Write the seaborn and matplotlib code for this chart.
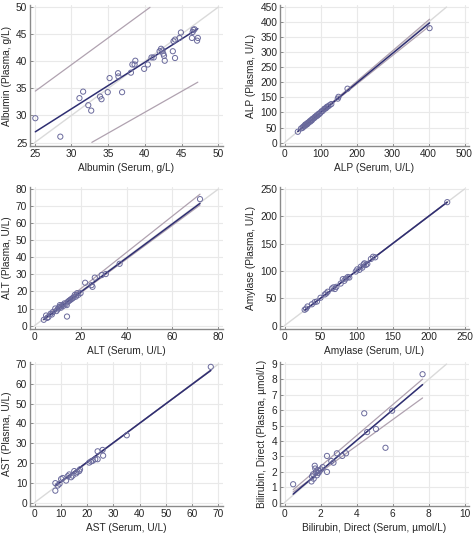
import numpy as np
import pandas as pd
import matplotlib
matplotlib.use("Agg")
import matplotlib.pyplot as plt
import seaborn as sns

# ---------------- data ----------------
alb_serum = [25.1, 28.5, 31.1, 31.6, 32.3, 32.7, 33.9, 34.1, 34.95, 35.2, 36.35, 36.4, 36.9,
             38.1, 38.3, 38.6, 38.7, 39.9, 40.4, 40.9, 41.2, 42.0, 42.2, 42.4, 42.5, 42.6, 42.7,
             43.8, 43.9, 44.1, 44.1, 44.7, 44.9, 46.4, 46.5, 46.6, 46.75, 47.1, 47.2]
alb_plasma = [29.5, 26.1, 33.2, 34.4, 31.9, 30.9, 33.5, 33.0, 34.3, 36.9, 37.8, 37.2, 34.3,
              37.9, 39.4, 39.4, 40.1, 38.6, 39.4, 40.7, 40.7, 41.85, 42.3, 42.0, 41.4, 41.0, 40.1,
              41.85, 43.7, 40.6, 44.0, 44.3, 45.3, 44.3, 45.4, 45.8, 45.9, 43.8, 44.3]

alp_serum = [37, 46, 50, 52, 55, 57, 58, 60, 62, 63, 65, 67, 70, 72, 74, 76, 78, 80, 83, 85,
             88, 90, 92, 95, 97, 100, 103, 106, 110, 112, 115, 118, 121, 125, 130, 148, 150, 175, 403]
alp_plasma = [36, 47, 49, 53, 54, 58, 60, 59, 63, 61, 66, 66, 71, 70, 75, 74, 79, 80, 82, 86,
              87, 91, 90, 96, 95, 99, 104, 105, 111, 113, 114, 119, 120, 124, 128, 146, 152, 179, 380]

alt_serum = [4.0, 5.0, 5.5, 6.0, 7.0, 7.5, 8.0, 9.0, 9.5, 10.0, 10.5, 11.0, 11.0, 11.5, 12.0,
             12.5, 13.0, 13.5, 14.0, 14.1, 14.5, 15.0, 15.5, 16.0, 16.5, 17.0, 17.5, 18.0, 18.5,
             19.0, 20.0, 22.0, 24.8, 25.2, 26.2, 29.2, 31.0, 37.0, 72.0]
alt_plasma = [3.4, 5.9, 4.5, 5.0, 7.0, 6.5, 8.0, 10.0, 8.5, 9.5, 10.5, 12.0, 11.0, 10.5, 12.0,
              11.5, 13.0, 12.5, 12.0, 5.3, 14.0, 14.5, 15.0, 15.5, 16.0, 16.5, 18.0, 17.0, 19.0,
              18.0, 19.0, 25.1, 23.7, 22.7, 28.1, 29.6, 30.2, 36.2, 74.1]

amy_serum = [28, 30, 32, 38, 42, 45, 50, 56, 58, 60, 66, 68, 70, 72, 78, 81, 83, 85, 88, 90,
             99, 101, 104, 106, 108, 110, 111, 113, 115, 120, 123, 126, 226]
amy_plasma = [29, 31, 35, 39, 43, 44, 51, 57, 59, 62, 68, 70, 67, 71, 77, 85, 82, 86, 89, 88,
              99, 103, 102, 108, 106, 112, 114, 111, 113, 122, 126, 125, 226]

ast_serum = [7.9, 7.9, 8.8, 9.5, 10.1, 10.7, 12.0, 12.6, 13.2, 13.9, 14.5, 15.1, 15.8, 16.3,
             17.0, 17.3, 20.8, 21.5, 22.1, 23.1, 24.0, 24.0, 25.9, 26.1, 35.1, 67.1]
ast_plasma = [9.8, 6.0, 8.6, 9.5, 11.9, 12.4, 11.1, 13.3, 14.2, 12.8, 13.6, 15.9, 14.7, 15.5,
              15.9, 16.8, 20.2, 20.8, 21.1, 21.9, 25.9, 21.9, 26.6, 23.7, 34.0, 68.6]

bil_serum = [0.48, 1.5, 1.53, 1.59, 1.62, 1.68, 1.71, 1.75, 1.8, 1.85, 1.89, 1.94, 2.03, 2.12,
             2.36, 2.36, 2.6, 2.72, 2.91, 3.21, 3.42, 4.43, 4.59, 5.08, 5.61, 5.98, 7.67]
bil_plasma = [1.19, 1.37, 1.7, 1.84, 1.55, 2.39, 2.21, 2.0, 1.77, 2.1, 1.92, 2.04, 2.15, 2.3,
              1.99, 3.03, 2.7, 2.59, 3.2, 3.03, 3.2, 5.8, 4.58, 4.78, 3.56, 5.97, 8.34]

# regression lines (intercept, slope): fit, upper, lower
lines = {
    "alb": [(5.41, 0.86), (9.65, 0.99), (-0.2, 0.77)],
    "alp": [(0.5, 0.985), (-1.5, 1.02), (2.5, 0.955)],
    "alt": [(-0.4, 1.0), (0.23, 1.066), (-0.66, 0.99)],
    "amy": [(0.0, 1.0), (-0.3, 1.003), (0.3, 0.997)],
    "ast": [(0.7, 0.985), (0.5, 0.99), (0.9, 0.98)],
    "bil": [(0.07, 0.99), (0.35, 1.0), (0.28, 0.85)],
}

panels = [
    ("alb", alb_serum, alb_plasma, "Albumin (Serum, g/L)", "Albumin (Plasma, g/L)",
     (25, 50, 5), (25, 50, 5)),
    ("alp", alp_serum, alp_plasma, "ALP (Serum, U/L)", "ALP (Plasma, U/L)",
     (0, 500, 100), (0, 450, 50)),
    ("alt", alt_serum, alt_plasma, "ALT (Serum, U/L)", "ALT (Plasma, U/L)",
     (0, 80, 20), (0, 80, 10)),
    ("amy", amy_serum, amy_plasma, "Amylase (Serum, U/L)", "Amylase (Plasma, U/L)",
     (0, 250, 50), (0, 250, 50)),
    ("ast", ast_serum, ast_plasma, "AST (Serum, U/L)", "AST (Plasma, U/L)",
     (0, 70, 10), (0, 70, 10)),
    ("bil", bil_serum, bil_plasma, "Bilirubin, Direct (Serum, \u00b5mol/L)",
     "Bilirubin, Direct (Plasma, \u00b5mol/L)", (0, 10, 2), (0, 9, 1)),
]

# ---------------- style ----------------
sns.set_theme(style="white")
plt.rcParams["font.family"] = ["Liberation Sans", "DejaVu Sans"]
plt.rcParams["font.size"] = 7

W, H = 474, 533
fig = plt.figure(figsize=(W / 100, H / 100), dpi=100)

col_x = [(30, 223), (280, 469)]
row_y = [(5, 146), (187, 329), (362, 506)]

IDC = "#dadada"
FITC = "#2e2e72"
CIC = "#b0a2b0"
PTC = "#6a6a9c"
GRID = "#e9e9e9"
SPINE = "#8a8a8a"

for i, (key, xs, ys, xl, yl, xt, yt) in enumerate(panels):
    r, c = divmod(i, 2)
    x0, x1 = col_x[c]
    y0, y1 = row_y[r]
    ax = fig.add_axes([x0 / W, 1 - y1 / H, (x1 - x0) / W, (y1 - y0) / H])

    xlo, xhi, xst = xt
    ylo, yhi, yst = yt
    xr, yr = xhi - xlo, yhi - ylo
    ax.set_xlim(xlo - 0.025 * xr, xhi + 0.025 * xr)
    ax.set_ylim(ylo - 0.025 * yr, yhi + 0.015 * yr)
    ax.set_xticks(np.arange(xlo, xhi + xst / 2, xst))
    ax.set_yticks(np.arange(ylo, yhi + yst / 2, yst))
    ax.grid(True, color=GRID, lw=0.8)
    ax.set_axisbelow(True)

    # identity line
    lo = max(xlo, ylo)
    ident = pd.DataFrame({"x": [lo, yhi], "y": [lo, yhi]})
    sns.lineplot(data=ident, x="x", y="y", ax=ax, color=IDC, lw=1.0, zorder=1)

    xmin, xmax = min(xs), max(xs)
    xx = np.linspace(xmin, xmax, 300)
    fit, up, lw_ = lines[key]
    for (a, b), colr, lw, z in [(up, CIC, 0.9, 2), (lw_, CIC, 0.9, 2), (fit, FITC, 1.1, 3)]:
        yy = a + b * xx
        m = (yy >= ylo) & (yy <= yhi)
        d = pd.DataFrame({"x": xx[m], "y": yy[m]})
        sns.lineplot(data=d, x="x", y="y", ax=ax, color=colr, lw=lw, zorder=z)

    pts = pd.DataFrame({"x": xs, "y": ys})
    sns.scatterplot(data=pts, x="x", y="y", ax=ax, s=14, marker="o",
                    facecolor="none", edgecolor=PTC, linewidth=0.7, zorder=4)

    ax.set_xlabel(xl, fontsize=7.3, labelpad=3)
    ax.set_ylabel(yl, fontsize=7.3, labelpad=3)
    for s in ["top", "right"]:
        ax.spines[s].set_visible(False)
    for s in ["left", "bottom"]:
        ax.spines[s].set_color(SPINE)
        ax.spines[s].set_linewidth(1.0)
    ax.tick_params(axis="both", labelsize=7.3, direction="in", length=2.5,
                   width=0.7, color=SPINE, pad=2, left=True, bottom=True)

fig.savefig("out.png", dpi=100)
